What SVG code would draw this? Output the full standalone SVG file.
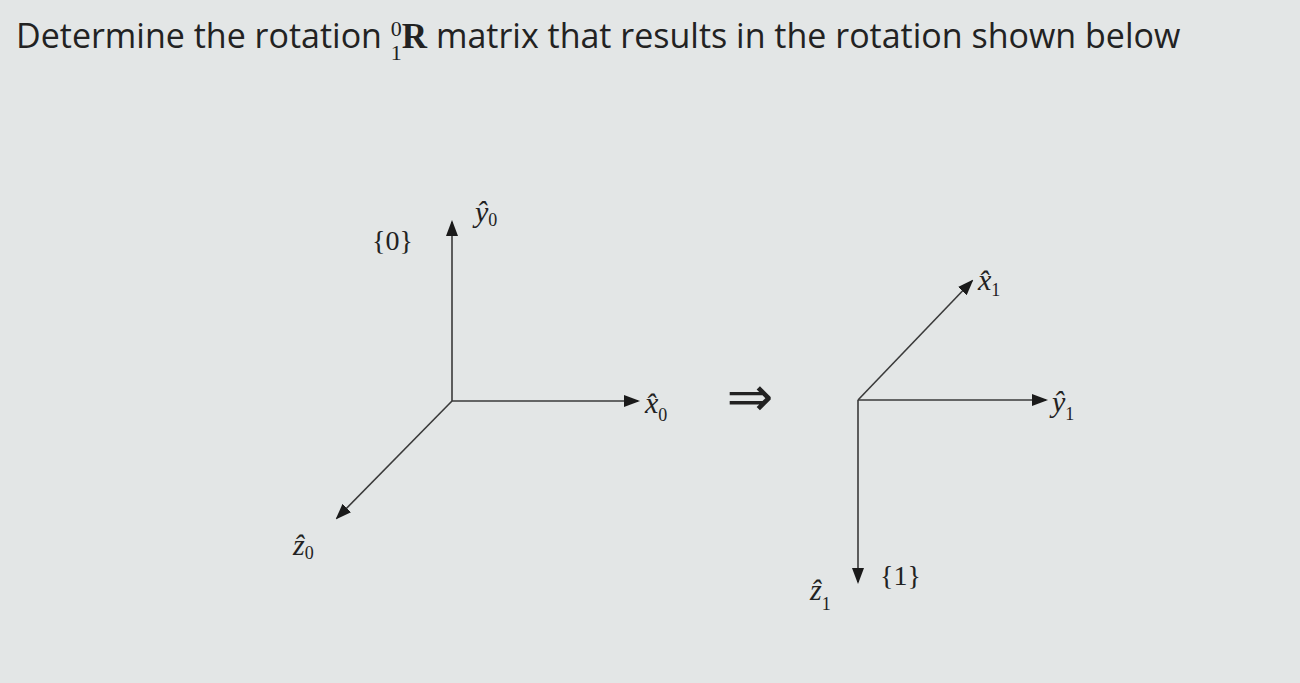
<svg xmlns="http://www.w3.org/2000/svg" width="1300" height="683" viewBox="0 0 1300 683">
<style>
.ax{stroke:#3a3a3a;stroke-width:1.6;fill:none;marker-end:url(#ah)}
.m{font-family:"Liberation Serif",serif;font-style:italic;font-size:30px;fill:#222}
.s{font-family:"Liberation Serif",serif;font-size:18px;fill:#222}
.b{font-family:"Liberation Serif",serif;font-size:28px;fill:#222}
</style>
<defs><marker id="ah" markerWidth="16" markerHeight="12" refX="14" refY="6" orient="auto" markerUnits="userSpaceOnUse"><path d="M0,0 L16,6 L0,12 z" fill="#1a1a1a"/></marker></defs>
<rect width="1300" height="683" fill="#e3e6e6"/>
<text x="16" y="48" font-family="Open Sans,sans-serif" font-size="34" fill="#222">Determine the rotation <tspan font-family="Liberation Serif,serif" font-size="22" dy="-12">0</tspan><tspan font-family="Liberation Serif,serif" font-size="22" dx="-11" dy="24">1</tspan><tspan font-family="Liberation Serif,serif" font-weight="bold" font-size="35" dy="-12">R</tspan> matrix that results in the rotation shown below</text>
<g id="connectors">
<path class="ax" d="M452,401 L452,222"/>
<path class="ax" d="M452,401 L638,401"/>
<path class="ax" d="M452,401 L337,518"/>
<path class="ax" d="M858,400 L972,281"/>
<path class="ax" d="M858,400 L1046,400"/>
<path class="ax" d="M858,400 L858,582"/>
</g>
<g id="frame0">
<text class="b" x="372" y="250">{0}</text>
<text class="m" x="475" y="222">ŷ<tspan class="s" dy="4" font-style="normal">0</tspan></text>
<text class="m" x="645" y="413">x̂<tspan class="s" dy="8" font-style="normal">0</tspan></text>
<text class="m" x="293" y="555">ẑ<tspan class="s" dy="4" font-style="normal">0</tspan></text>
</g>
<g id="arrow"><text x="750" y="416" font-family="DejaVu Sans,sans-serif" font-size="56" fill="#222" text-anchor="middle">⇒</text></g>
<g id="frame1">
<text class="m" x="978" y="290">x̂<tspan class="s" dy="6" font-style="normal">1</tspan></text>
<text class="m" x="1052" y="412">ŷ<tspan class="s" dy="8" font-style="normal">1</tspan></text>
<text class="m" x="810" y="600">ẑ<tspan class="s" dy="10" font-style="normal">1</tspan></text>
<text class="b" x="880" y="585">{1}</text>
</g>
</svg>
